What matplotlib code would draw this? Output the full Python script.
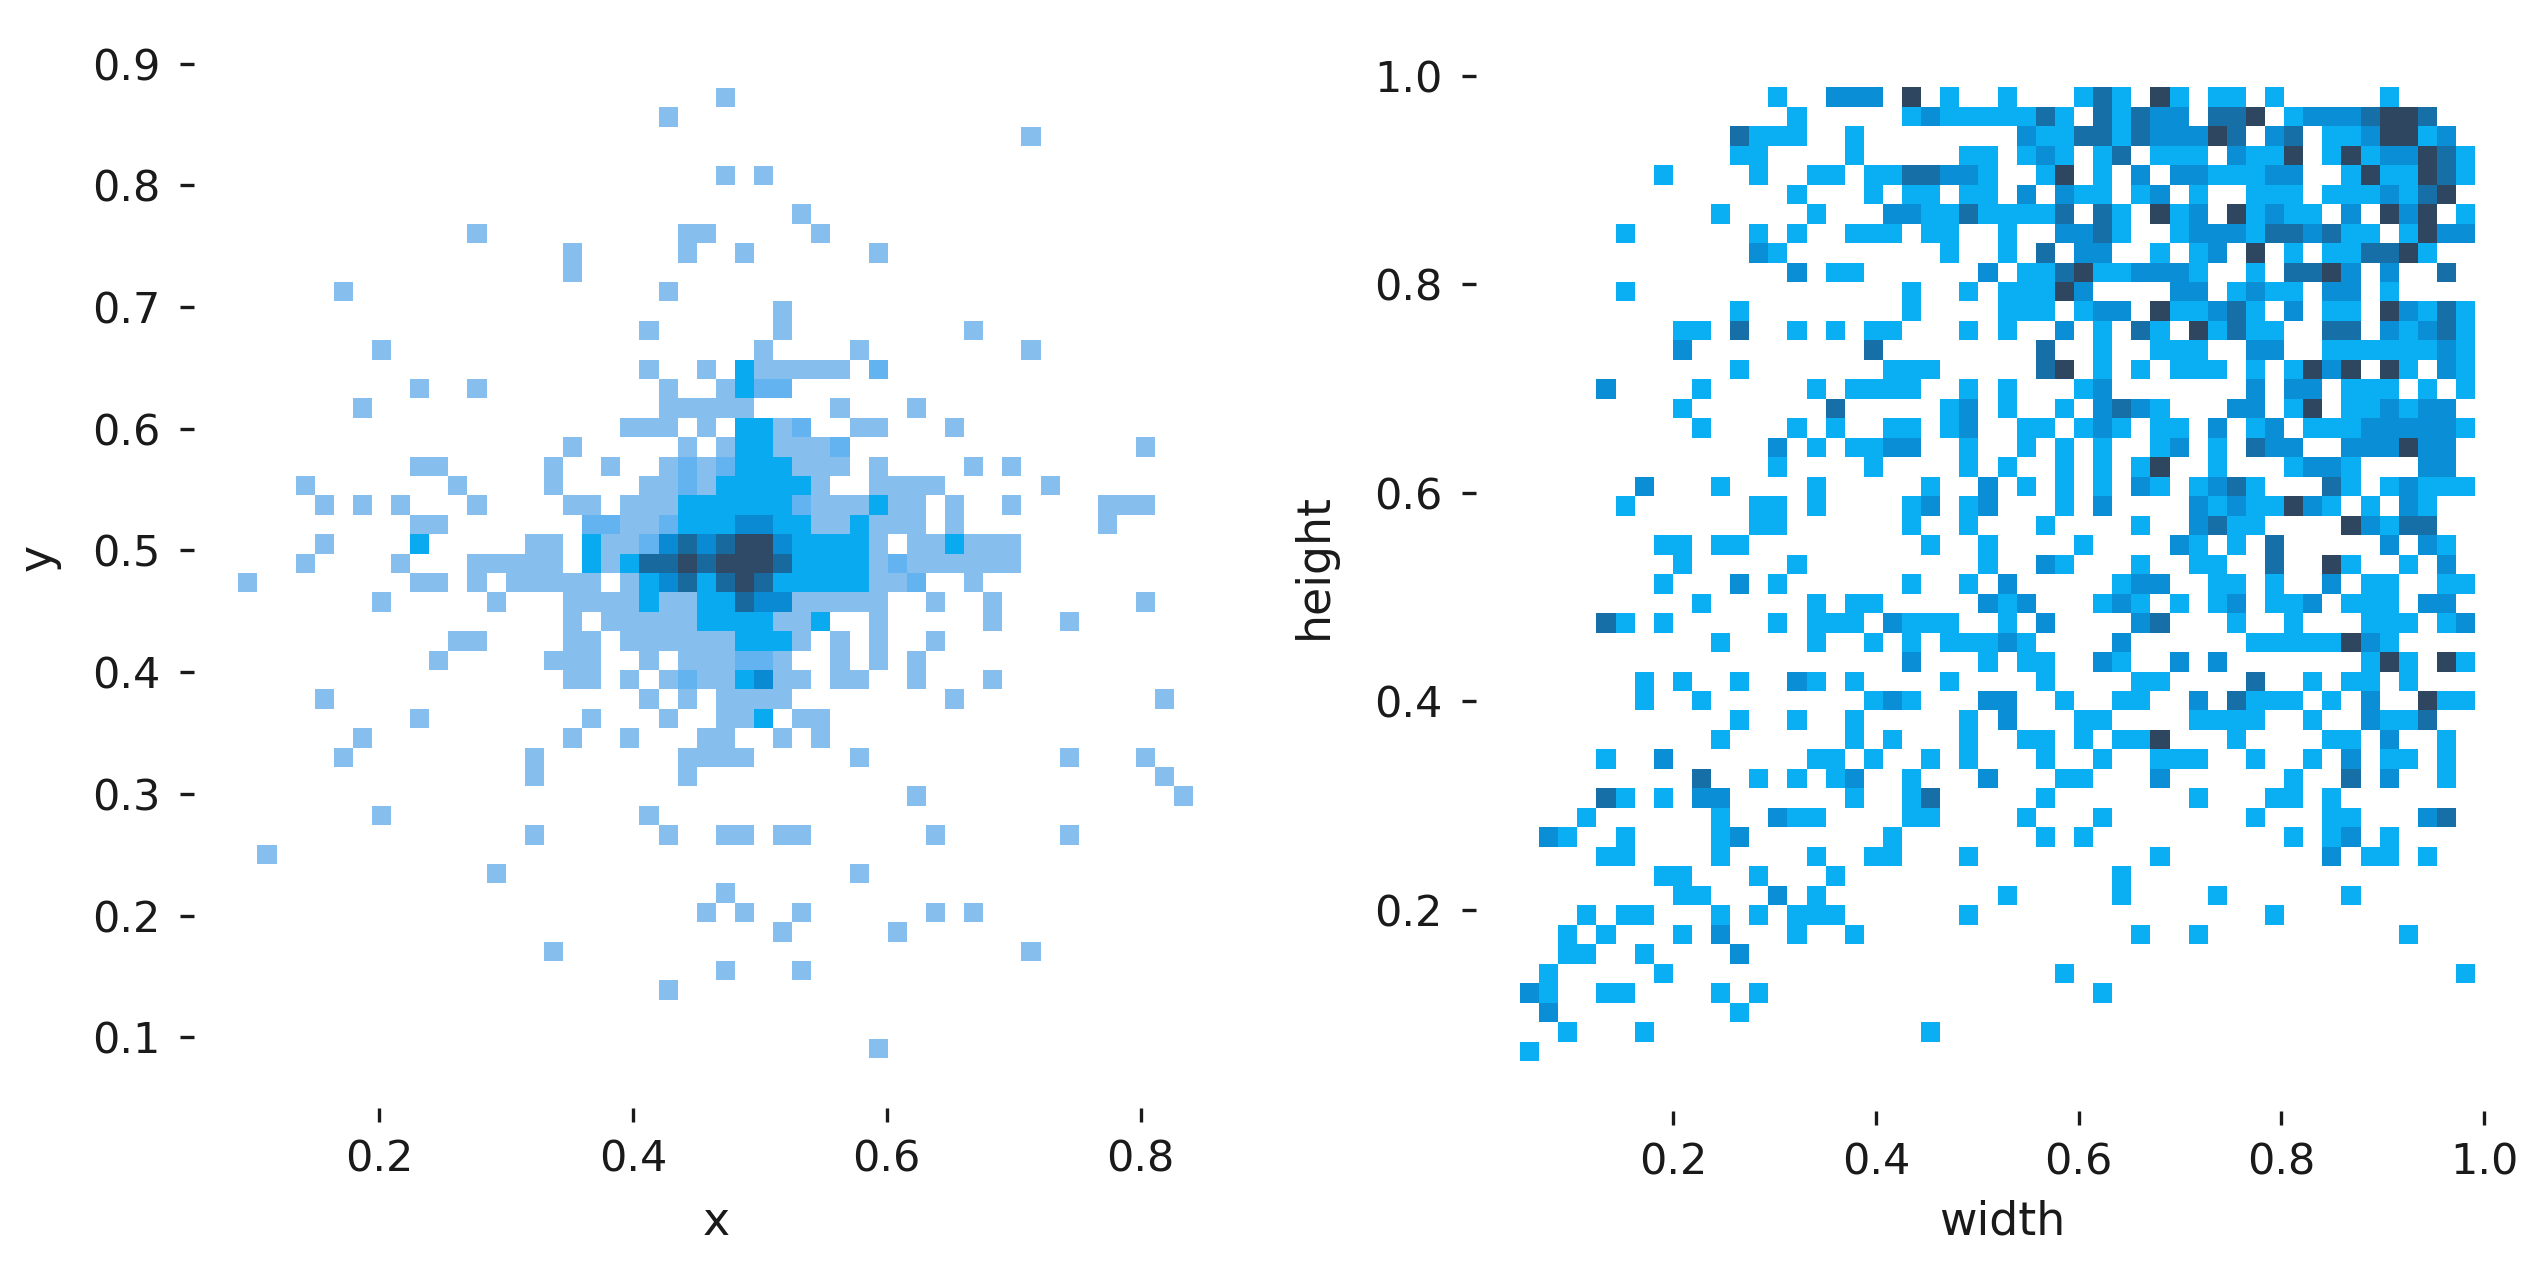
import numpy as np
import matplotlib
matplotlib.use("Agg")
import matplotlib.pyplot as plt
from matplotlib.colors import ListedColormap, BoundaryNorm

# ---------------- data ----------------
# Left histogram: x / y, 50 x 50 bins. Each row string (top row first) lists
# occupied columns: "c", "a-b" (range) with optional ":level" (default level 1).
left_x_range = (0.0893, 0.8414)
left_y_range = (0.083, 0.880)
left_rows = [
    "25", "22", "41", "", "25 27", "", "29", "12 23 24 30", "17 23 26 33", "17",
    "5 22", "28", "21 28 38", "7 27 32 41",
    "21 24 26:3 27-31 33:2",
    "9 12 22 25 26:3 27:2 28:2",
    "6 22-26 31 35",
    "20-22 24 26:3 27:3 28 29:2 32 33 37",
    "17 23 25 26:3 27:3 28-30 31:2 47",
    "9 10 16 19 22 23:2 24 25:2 26-28:3 29-31 33 38 40",
    "3 11 16 21 22 23:2 24 25-29:3 30 33-36 42",
    "4 6 8 12 17 18 20-22 23-28:3 29:2 30-32 33:3 34 35 37 40 45-47",
    "9 10 18:2 19:2 20 21 22:2 23-25:3 26:4 27:4 28:3 29:3 30 31 32:3 33-35 37 45",
    "4 9:3 15 16 18:3 19 20 21:2 22:4 23:5 24:4 25:5 26:6 27:6 28:4 29-32:3 33 35 36 37:3 38-40",
    "3 8 12-16 18:3 19 20:3 21:5 22:5 23:6 24:5 25-27:6 28:5 29-32:3 33 34:2 35-40",
    "0 9 10 12 14-18 20 21:3 22:4 23:5 24:3 25:5 26:6 27:5 28-32:3 33 34 35:2 38",
    "7 13 17-20 21:3 22 23 24:3 25:3 26:5 27:4 28:4 29-33 36 39 47",
    "17 19-23 24-27:3 28 29 30:3 33 39 43",
    "11 12 17 18 20-25 26-28:3 29 31 33 36",
    "10 16-18 21 23-25 26:2 27:2 28 31 33 35",
    "17 18 20 22 23:2 24 25 26:3 27:4 28 29 31 32 35 39",
    "4 21 23 25-28 37 48",
    "9 18 22 25 26 27:3 29 30",
    "6 17 20 24 25 28 30",
    "5 15 23-26 32 43 47",
    "15 23 48", "35 49", "7 21",
    "15 22 25 26 28 29 36 43",
    "1", "13 32", "25", "24 26 29 36 38", "28 34", "16 41", "25 29", "22",
    "", "", "33",
]
left_levels = ["#86BFEE", "#62B3F0", "#0AAAF0", "#0A8AD2", "#186A9E", "#2F4A66"]
left_xticks = [0.2, 0.4, 0.6, 0.8]
left_yticks = [0.1, 0.2, 0.3, 0.4, 0.5, 0.6, 0.7, 0.8, 0.9]

# Right histogram: width / height, 50 x 50 bins
right_x_range = (0.049, 0.991)
right_y_range = (0.055, 0.989)
right_rows = [
    "13 16-18:2 20:4 22 25 29 30:3 31 33:4 34 36 37 39 45",
    "14 20 21:2 22-26 27:3 28 30:3 31 32:3 33:2 34:2 36:3 37:3 38:4 40 41-43:2 44:3 45:4 46:4 47:3",
    "11:3 12-14 17 26:2 27 28 29:3 30:3 31 32:3 33:2 34:2 35:2 36:4 37:3 39:2 40:3 42 43 44:2 45:4 46:4 47 48:2",
    "11 12 17 23 24 26 27:2 28 30 31:3 33-35 37:2 38 39 40:4 42 43:4 44 45:2 46:2 47:4 48:3 49",
    "7 12 15 16 18 19 20:3 21:3 22:2 23:2 24 27 28:4 30 32:2 34:2 35:2 36-38 39:2 40:2 43 44:4 45 46 47:4 48:3 49",
    "14 18 20 21 23 24 26:2 28:2 29 30 32 33:2 35 38-40 42-44 45:2 46 47:3 48:4",
    "10 15 19:2 20:2 21 22 23:3 24-27 28:3 30:3 31 33:4 34 35:2 37:4 38 39:2 40 41 43:2 45:4 46:2 47:4 49",
    "5 12 14 17-19 21 22 25 28:2 29:2 30:3 31 34 35:2 36:2 37:2 38 39:3 40:3 41:2 42:3 43 44 46 47:4 48:2 49:2",
    "12:2 13 22 25 27:3 29:2 30:2 33 35 36:2 38:4 40 42 43 44:3 45:3 46:4 47",
    "14:2 16 17 24:2 26 27 28:3 29:4 30 31 32:2 33:2 34:2 35 38 40:3 41:3 42:4 43:2 45:2 48:3",
    "5 20 23 25-27 28:4 29:2 34:2 35:2 37 38:2 39 40 42:2 43:2 45",
    "11 20 25-27 29 30:2 31:2 33:4 34 35 36:2 37:3 38 40:2 42 43 45:4 46:2 47 48:3 49",
    "8 9 11:3 14 16 18 19 23 25 28:2 30 32:3 33 35:4 36 37:3 38 39 42:3 43:3 45:2 46 47:2 48:3 49",
    "8:2 18:3 27:3 30 33-35 38:2 39:2 42-47 48:2 49",
    "11 19-21 27:3 28:4 30 32 34-36 38 40 41:4 42:2 43:4 45:4 46 48:2 49",
    "4:2 9 15 17-20 23 25 29 30:2 38:2 40:2 41:2 43-45 47 49",
    "8 16:3 22 23:2 25 28 30:2 31:3 32:2 33 37:2 38:2 40 41:4 43 44 45:2 46 47:2 48:2",
    "9 14 16 19 20 22 23:2 26 27 29 30:2 31 33 34 36:2 38 39:2 41-43 44:2 45:2 46:2 47:2 48:2 49",
    "13:2 15 17 18 19:2 20:2 23 26 28 30 33 34:2 36 38:3 39:2 40:2 43:2 44:2 45:2 46:4 47:2 48:2",
    "13 18 23 25 28 30 32 33:4 36 40 41:2 42:2 43 47:2 48:2",
    "6:2 10 15 21 24:2 26 28 30 32:2 33 35 36:2 37:3 38 42:3 43 45 46:2 47-49",
    "5 12 13 15 20 21:2 23 24:2 28 30:2 35:2 36 37:2 38 39 40:4 41:2 42 44 46:2 47",
    "12 13 20 23 27 32 35:2 36:3 37 38 43:4 44:2 45 46:3 47:3",
    "7 8 10 11 21 24 29 34:2 35 37 39:3 45:2 47:2 48",
    "8 14 24 27:2 28 32 35 36 39:3 42:4 43 46 48:2",
    "7 11:2 13 20 23 25:2 31 32:2 33:2 36 37 39 42:2 44 45 48 49",
    "9 15 17 18 24:2 25 26:2 30 31:2 32 34 36 37:2 39 40 41:2 43-45 47:2 48:2",
    "4:3 5 7 13 15 16 17 19:2 20-22 25 27:2 32:2 33:3 37 40 44-46 48 49:2",
    "10 15 18 20 22 23 24 25:2 26 31:2 38-42 43:4 44:2 45",
    "20:2 24 26 27 30:2 31 34:2 36:2 44 45:4 46 48:4 49",
    "6 8 11 14:2 15 17 22 27 32 33 38:3 41 43 44 46",
    "6 9 18 19:2 20 24:2 25:2 28 31 32 35:2 37:3 38-40 42 44:2 47:4 48 49",
    "11 14 17 23 25:2 29 30 35-38 41 44:2 45 46 47:3",
    "10 17 19 23 26 27 29 31 32 33:4 37 42 43 45:2 48",
    "4 7:2 15 16 18 21 23 27 30 33-35 38 41 43:2 45 46 48",
    "9:3 12 14 16 17:2 20 24:2 28 29 33:2 40 43:3 45:2 48",
    "4:3 5 7 9:2 10:2 17 20 21:3 27 35 39 40 42",
    "3 10 13:2 14 15 20 21 26 30 38 42 43 47:2 48:3",
    "1:2 2 5 10 11:2 19 27 29 40 42 43:2 45",
    "4 5 10 15 18 19 23 33 42:2 44 45 47",
    "7 8 12 16 31",
    "8 9 13:2 15 25 31 36 43",
    "3 5 6 10 12 14-16 23 39",
    "2 4 8 10:2 14 17 32 35 46",
    "2 3 6 11:2",
    "1 7 28 49",
    "0:2 1 4 5 10 12 30",
    "1:2 11",
    "2 6 21",
    "0",
]
right_levels = ["#0AAEF2", "#0A8FD6", "#166FA6", "#2E465F"]
right_xticks = [0.2, 0.4, 0.6, 0.8, 1.0]
right_yticks = [0.2, 0.4, 0.6, 0.8, 1.0]


def parse(rows, n=50):
    g = np.zeros((n, n))
    for r, s in enumerate(rows):
        for tok in s.split():
            if ":" in tok:
                cols, v = tok.split(":")
                v = int(v)
            else:
                cols, v = tok, 1
            if "-" in cols:
                a, b = map(int, cols.split("-"))
                rng = range(a, b + 1)
            else:
                rng = [int(cols)]
            for c in rng:
                g[r, c] = v
    return g


W, H = 2542, 1288
fig = plt.figure(figsize=(W / 100, H / 100), dpi=100)
fig.patch.set_facecolor("white")

TXT = "#1a1a1a"
TICK_FS = 31
LABEL_FS = 33


def draw(ax, rows, levels, xr, yr, xlim, ylim, xticks, yticks, xlabel, ylabel,
         ylab_x, xlab_y):
    g = parse(rows)
    xe = np.linspace(xr[0], xr[1], g.shape[1] + 1)
    ye = np.linspace(yr[0], yr[1], g.shape[0] + 1)
    cmap = ListedColormap(levels)
    norm = BoundaryNorm(np.arange(0.5, len(levels) + 1.0, 1.0), cmap.N)
    ax.pcolormesh(xe, ye, np.ma.masked_equal(g[::-1], 0), cmap=cmap, norm=norm,
                  linewidth=0, antialiased=False)
    ax.set_xlim(*xlim)
    ax.set_ylim(*ylim)
    for s in ax.spines.values():
        s.set_visible(False)
    ax.spines["left"].set_position(("outward", 32))
    ax.spines["bottom"].set_position(("outward", 36))
    ax.set_xticks(xticks)
    ax.set_yticks(yticks)
    ax.set_xticklabels([f"{t:.1f}" for t in xticks])
    ax.set_yticklabels([f"{t:.1f}" for t in yticks])
    ax.tick_params(axis="both", direction="out", length=10, width=2.4,
                   color=TXT, labelcolor=TXT, labelsize=TICK_FS)
    ax.tick_params(axis="y", pad=14)
    ax.tick_params(axis="x", pad=12)
    ax.set_xlabel(xlabel, fontsize=LABEL_FS, color=TXT)
    ax.set_ylabel(ylabel, fontsize=LABEL_FS, color=TXT)
    ax.yaxis.set_label_coords(ylab_x, 0.5)
    ax.xaxis.set_label_coords(0.5, xlab_y)
    ax.set_facecolor("white")


# left axes: data 238.3..1193.3 px horizontally, 1058..57.6 px vertically
axL = fig.add_axes([238.3 / W, 1 - 1058 / H, 955 / W, (1058 - 57.6) / H])
draw(axL, left_rows, left_levels, left_x_range, left_y_range,
     (0.0893, 0.8414), (0.083, 0.905), left_xticks, left_yticks, "x", "y",
     -0.186, -0.142)

# right axes
axR = fig.add_axes([1520 / W, 1 - 1061 / H, 965.3 / W, 990.4 / H])
draw(axR, right_rows, right_levels, right_x_range, right_y_range,
     (0.049, 1.001), (0.055, 1.005), right_xticks, right_yticks, "width", "height",
     -0.19, -0.140)

fig.savefig("out.png", dpi=100, facecolor="white")
